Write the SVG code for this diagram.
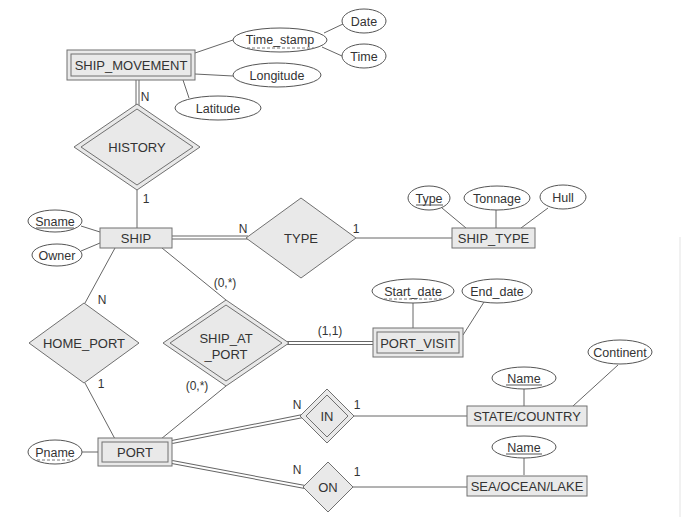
<svg xmlns="http://www.w3.org/2000/svg" width="681" height="517" viewBox="0 0 681 517">
<style>
  .ent{fill:#e9e9e9;stroke:#707070;stroke-width:1}
  .in{fill:none;stroke:#707070;stroke-width:1}
  .att{fill:#ffffff;stroke:#555555;stroke-width:1}
  .ln{stroke:#666666;stroke-width:1;fill:none}
  .dbo{stroke:#666666;stroke-width:4;fill:none}
  .dbi{stroke:#ffffff;stroke-width:2;fill:none}
  text{font-family:"Liberation Sans",Arial,sans-serif;fill:#333333}
  .t{font-size:13px;text-anchor:middle}
  .a{font-size:12.5px;text-anchor:middle}
  .l{font-size:12px;text-anchor:middle}
  .ul{stroke:#555555;stroke-width:1}
  .dul{stroke:#777777;stroke-width:1;stroke-dasharray:3,2}
</style>
<rect width="681" height="517" fill="#ffffff"/>
<line x1="680" y1="237" x2="680" y2="517" stroke="#ececec" stroke-width="1.5"/>
<g id="connectors">
  <line class="ln" x1="195" y1="53" x2="233" y2="40"/>
  <line class="ln" x1="324" y1="33" x2="343" y2="24"/>
  <line class="ln" x1="322" y1="47" x2="342" y2="56"/>
  <line class="ln" x1="195" y1="74" x2="233" y2="76"/>
  <line class="ln" x1="183" y1="80" x2="189" y2="98"/>
  <line class="dbo" x1="137.5" y1="80" x2="137.5" y2="108"/>
  <line class="dbi" x1="137.5" y1="80" x2="137.5" y2="108"/>
  <line class="ln" x1="137" y1="190" x2="137" y2="228"/>
  <line class="ln" x1="81" y1="226" x2="100" y2="232"/>
  <line class="ln" x1="81" y1="251" x2="100" y2="243"/>
  <line class="dbo" x1="172" y1="237.5" x2="248" y2="237.5"/>
  <line class="dbi" x1="172" y1="237.5" x2="248" y2="237.5"/>
  <line class="ln" x1="356" y1="238" x2="452" y2="238"/>
  <line class="ln" x1="442" y1="208" x2="466" y2="228"/>
  <line class="ln" x1="496" y1="210" x2="496" y2="228"/>
  <line class="ln" x1="548" y1="208" x2="521" y2="228"/>
  <line class="ln" x1="115" y1="248" x2="85" y2="303"/>
  <line class="ln" x1="85" y1="383" x2="115" y2="439"/>
  <line class="ln" x1="162" y1="248" x2="226" y2="300"/>
  <line class="ln" x1="226" y1="386" x2="161" y2="439"/>
  <line class="dbo" x1="287" y1="343" x2="373" y2="343"/>
  <line class="dbi" x1="287" y1="343" x2="373" y2="343"/>
  <line class="ln" x1="413" y1="303" x2="413" y2="328"/>
  <line class="ln" x1="484" y1="302" x2="463" y2="335"/>
  <line class="dbo" x1="172" y1="442" x2="303" y2="416"/>
  <line class="dbi" x1="172" y1="442" x2="303" y2="416"/>
  <line class="dbo" x1="172" y1="462" x2="305" y2="487"/>
  <line class="dbi" x1="172" y1="462" x2="305" y2="487"/>
  <line class="ln" x1="354" y1="416" x2="467" y2="416"/>
  <line class="ln" x1="524" y1="389" x2="524" y2="406"/>
  <line class="ln" x1="618" y1="365" x2="573" y2="406"/>
  <line class="ln" x1="352" y1="487" x2="467" y2="487"/>
  <line class="ln" x1="524" y1="458" x2="524" y2="475"/>
</g>
<g id="labels">
  <text class="l" x="145" y="101">N</text>
  <text class="l" x="146" y="203">1</text>
  <text class="l" x="243" y="233">N</text>
  <text class="l" x="356" y="233">1</text>
  <text class="l" x="102" y="304">N</text>
  <text class="l" x="101" y="388">1</text>
  <text class="l" x="225" y="287">(0,*)</text>
  <text class="l" x="197" y="390">(0,*)</text>
  <text class="l" x="330" y="335">(1,1)</text>
  <text class="l" x="297" y="409">N</text>
  <text class="l" x="357" y="409">1</text>
  <text class="l" x="297" y="474">N</text>
  <text class="l" x="357" y="476">1</text>
</g>
<g id="SHIP_MOVEMENT">
  <rect class="ent" x="67" y="50" width="128" height="30"/>
  <rect class="in" x="71" y="54" width="120" height="22"/>
  <text class="t" x="131" y="69.5">SHIP_MOVEMENT</text>
</g>
<g id="Time_stamp">
  <ellipse class="att" cx="280" cy="40" rx="47" ry="12"/>
  <text class="a" x="280" y="44">Time_stamp</text>
  <line class="dul" x1="247" y1="48" x2="314" y2="48"/>
</g>
<g id="Date">
  <ellipse class="att" cx="364" cy="21" rx="22" ry="12"/>
  <text class="a" x="364" y="25.5">Date</text>
</g>
<g id="Time">
  <ellipse class="att" cx="364" cy="56" rx="22" ry="12"/>
  <text class="a" x="364" y="60.5">Time</text>
</g>
<g id="Longitude">
  <ellipse class="att" cx="277" cy="75" rx="44" ry="12"/>
  <text class="a" x="277" y="79.5">Longitude</text>
</g>
<g id="Latitude">
  <ellipse class="att" cx="218" cy="108" rx="43" ry="12"/>
  <text class="a" x="218" y="112.5">Latitude</text>
</g>
<g id="HISTORY">
  <polygon class="ent" points="137,104 200,147 137,190 74,147"/>
  <polygon class="in" points="137,109 193,147 137,185 81,147"/>
  <text class="t" x="137" y="151.5">HISTORY</text>
</g>
<g id="SHIP">
  <rect class="ent" x="100" y="228" width="72" height="20"/>
  <text class="t" x="136" y="242.5">SHIP</text>
</g>
<g id="Sname">
  <ellipse class="att" cx="55" cy="221" rx="27" ry="11"/>
  <text class="a" x="55" y="225.5">Sname</text>
  <line class="ul" x1="36" y1="228" x2="74" y2="228"/>
</g>
<g id="Owner">
  <ellipse class="att" cx="57" cy="255" rx="25" ry="11"/>
  <text class="a" x="57" y="259.5">Owner</text>
</g>
<g id="TYPE">
  <polygon class="ent" points="301,198 356,238 301,278 246,238"/>
  <text class="t" x="301" y="242.5">TYPE</text>
</g>
<g id="SHIP_TYPE">
  <rect class="ent" x="452" y="228" width="83" height="20"/>
  <text class="t" x="493.5" y="242.5">SHIP_TYPE</text>
</g>
<g id="Type">
  <ellipse class="att" cx="429" cy="198" rx="21" ry="12"/>
  <text class="a" x="429" y="202.5">Type</text>
  <line class="ul" x1="416" y1="205" x2="443" y2="205"/>
</g>
<g id="Tonnage">
  <ellipse class="att" cx="497" cy="198" rx="33" ry="12"/>
  <text class="a" x="497" y="202.5">Tonnage</text>
</g>
<g id="Hull">
  <ellipse class="att" cx="563" cy="197" rx="23" ry="12"/>
  <text class="a" x="563" y="201.5">Hull</text>
</g>
<g id="HOME_PORT">
  <polygon class="ent" points="84,303 139,343 84,383 29,343"/>
  <text class="t" x="84" y="347.5">HOME_PORT</text>
</g>
<g id="SHIP_AT_PORT">
  <polygon class="ent" points="226,300 289,343 226,386 163,343"/>
  <polygon class="in" points="226,305 282,343 226,381 170,343"/>
  <text class="t" x="226" y="343">SHIP_AT</text>
  <text class="t" x="226" y="359">_PORT</text>
</g>
<g id="PORT_VISIT">
  <rect class="ent" x="373" y="328" width="90" height="29"/>
  <rect class="in" x="377" y="332" width="82" height="21"/>
  <text class="t" x="418" y="347.5">PORT_VISIT</text>
</g>
<g id="Start_date">
  <ellipse class="att" cx="413" cy="291" rx="41" ry="12"/>
  <text class="a" x="413" y="295.5">Start_date</text>
  <line class="dul" x1="384" y1="299" x2="442" y2="299"/>
</g>
<g id="End_date">
  <ellipse class="att" cx="497" cy="291" rx="35" ry="12"/>
  <text class="a" x="497" y="295.5">End_date</text>
</g>
<g id="PORT">
  <rect class="ent" x="98" y="438" width="74" height="28"/>
  <rect class="in" x="102" y="442" width="66" height="20"/>
  <text class="t" x="135" y="456.5">PORT</text>
</g>
<g id="Pname">
  <ellipse class="att" cx="55" cy="452" rx="27" ry="12"/>
  <text class="a" x="55" y="456.5">Pname</text>
  <line class="dul" x1="37" y1="460" x2="73" y2="460"/>
</g>
<line class="ln" x1="82" y1="452" x2="98" y2="452"/>
<g id="IN">
  <polygon class="ent" points="327,389 354,416 327,443 300,416"/>
  <polygon class="in" points="327,395 348,416 327,437 306,416"/>
  <text class="t" x="327" y="420.5">IN</text>
</g>
<g id="ON">
  <polygon class="ent" points="328,462 353,487 328,512 303,487"/>
  <text class="t" x="328" y="491.5">ON</text>
</g>
<g id="STATE_COUNTRY">
  <rect class="ent" x="467" y="406" width="120" height="20"/>
  <text class="t" x="527" y="420.5">STATE/COUNTRY</text>
</g>
<g id="Name1">
  <ellipse class="att" cx="524" cy="378" rx="32" ry="11"/>
  <text class="a" x="524" y="382.5">Name</text>
  <line class="ul" x1="506" y1="385" x2="542" y2="385"/>
</g>
<g id="Continent">
  <ellipse class="att" cx="620" cy="352" rx="32" ry="12"/>
  <text class="a" x="620" y="356.5">Continent</text>
</g>
<g id="SEA_OCEAN_LAKE">
  <rect class="ent" x="467" y="476" width="120" height="20"/>
  <text class="t" x="527" y="490.5">SEA/OCEAN/LAKE</text>
</g>
<g id="Name2">
  <ellipse class="att" cx="524" cy="447" rx="32" ry="11"/>
  <text class="a" x="524" y="451.5">Name</text>
  <line class="ul" x1="506" y1="454" x2="542" y2="454"/>
</g>
</svg>
